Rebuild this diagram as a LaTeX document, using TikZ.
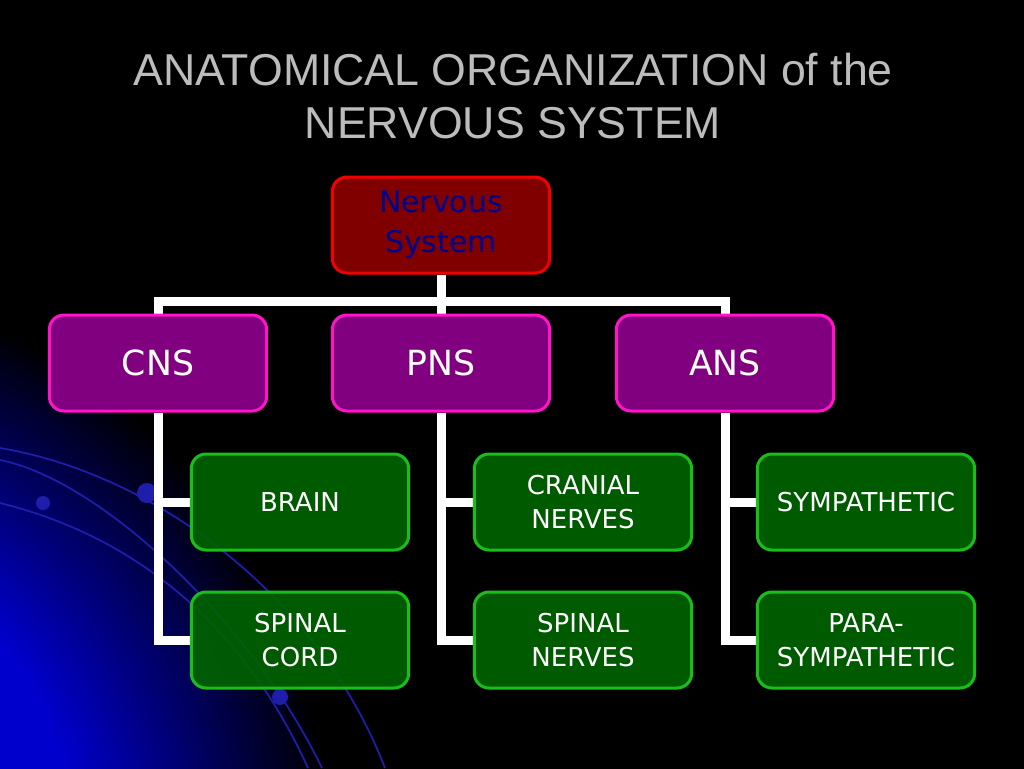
\documentclass[tikz,border=0pt]{standalone}
\usepackage{fontspec}
\setmainfont{DejaVu Sans}
\newfontfamily\titlefont{Liberation Sans}
\definecolor{glowblue}{RGB}{0,0,205}
\definecolor{arcblue}{RGB}{30,30,170}
\definecolor{topfill}{RGB}{128,0,0}
\definecolor{topdraw}{RGB}{240,0,0}
\definecolor{toptext}{RGB}{0,0,140}
\definecolor{midfill}{RGB}{128,0,128}
\definecolor{middraw}{RGB}{255,20,200}
\definecolor{lowfill}{RGB}{0,100,0}
\definecolor{lowdraw}{RGB}{25,190,25}
\definecolor{titlegray}{RGB}{188,188,188}
\pgfdeclareradialshading{glow}{\pgfpoint{0bp}{0bp}}{color(0bp)=(glowblue); color(14bp)=(glowblue); color(25bp)=(black); color(50bp)=(black)}
\pgfdeclarelayer{bg}
\pgfdeclarelayer{lines}
\pgfsetlayers{bg,lines,main}
\tikzset{
  box/.style={rounded corners=11pt, line width=2.25pt, minimum width=163pt, minimum height=72pt, inner sep=0pt, align=center},
  topbox/.style={box, fill=topfill, draw=topdraw, text=toptext, font=\fontsize{22.5}{30}\selectfont},
  midbox/.style={box, fill=midfill, draw=middraw, text=white, font=\fontsize{26}{32}\selectfont},
  lowbox/.style={box, fill=lowfill, fill opacity=0.9, text opacity=1, draw=lowdraw, text=white, font=\fontsize{19.5}{25.5}\selectfont},
  conn/.style={draw=white, line width=6.75pt},
  arc/.style={draw=arcblue, line width=1.3pt},
  dot/.style={fill=arcblue},
  titletext/.style={text=titlegray, font=\titlefont\fontsize{33.5}{40}\selectfont, anchor=base, inner sep=0pt}
}
\begin{document}
\begin{tikzpicture}[x=0.75pt,y=-0.75pt]
\useasboundingbox (0,0) rectangle (1024,768);
\begin{pgfonlayer}{bg}
  \fill[black] (-5,-5) rectangle (1030,775);
  \begin{scope}
    \clip (0,0) rectangle (1024,768);
    \shade[shading=glow] (-250,850) circle[radius=580];
    \draw[arc] (0,448) .. controls (160,475) and (320,600) .. (385,768);
    \draw[arc] (0,460) .. controls (100,480) and (250,620) .. (322,768);
    \draw[arc] (0,503) .. controls (150,540) and (250,640) .. (308,768);
    \fill[dot] (43,503) circle[radius=7];
    \fill[dot] (147,493) circle[radius=10];
    \fill[dot] (280,697) circle[radius=8];
  \end{scope}
\end{pgfonlayer}

\node[titletext] (t1) at (513,85) {ANATOMICAL ORGANIZATION of the};
\node[titletext] (t2) at (513,138) {NERVOUS SYSTEM};

\node[topbox] (top) at (441,225) {Nervous\\System};
\node[midbox] (cns) at (158,363) {CNS};
\node[midbox] (pns) at (441,363) {PNS};
\node[midbox] (ans) at (725,363) {ANS};
\node[lowbox] (brain) at (300,502) {BRAIN};
\node[lowbox] (spinalcord) at (300,640) {SPINAL\\CORD};
\node[lowbox] (cranial) at (583,502) {CRANIAL\\NERVES};
\node[lowbox] (spinalnerves) at (583,640) {SPINAL\\NERVES};
\node[lowbox] (symp) at (866,502) {SYMPATHETIC};
\node[lowbox] (para) at (866,640) {PARA-\\SYMPATHETIC};

\begin{pgfonlayer}{lines}
  \coordinate (hub) at (441,301);
  \draw[conn] (top.south) -- (hub);
  \draw[conn] (cns.north) |- (hub) -| (ans.north);
  \draw[conn] (hub) -- (pns.north);
  \draw[conn] (cns.south) |- (spinalcord.west);
  \draw[conn] (brain.west) -- (brain.west -| cns.south);
  \draw[conn] (pns.south) |- (spinalnerves.west);
  \draw[conn] (cranial.west) -- (cranial.west -| pns.south);
  \draw[conn] (ans.south) |- (para.west);
  \draw[conn] (symp.west) -- (symp.west -| ans.south);
\end{pgfonlayer}
\end{tikzpicture}
\end{document}
